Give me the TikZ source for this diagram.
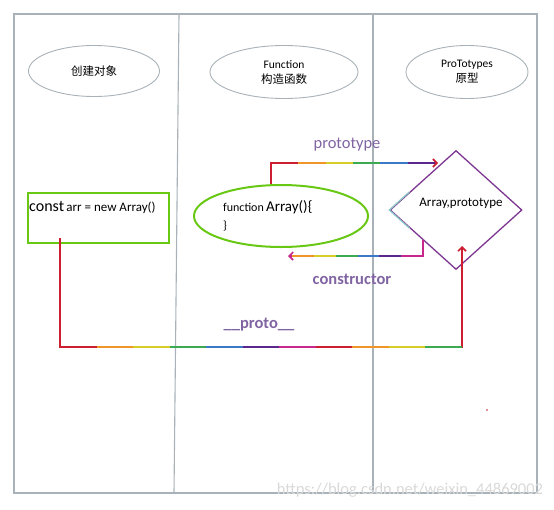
\documentclass[tikz,border=0pt]{standalone}
\usepackage{fontspec}
\setmainfont{Carlito}
\newfontfamily\cjk{Noto Sans CJK SC}
\usetikzlibrary{
    arrows.meta,
    calc,
    shapes.geometric
}
\definecolor{lanegray}{RGB}{168,178,184}
\definecolor{boxgreen}{RGB}{104,200,20}
\definecolor{labelpurple}{RGB}{128,100,162}
\definecolor{diapurple}{RGB}{125,55,145}
\definecolor{rbred}{RGB}{205,30,50}
\definecolor{rborange}{RGB}{240,150,40}
\definecolor{rbyellow}{RGB}{215,205,40}
\definecolor{rbgreen}{RGB}{60,170,80}
\definecolor{rbblue}{RGB}{60,120,200}
\definecolor{rbpurple}{RGB}{90,40,140}
\definecolor{rbmagenta}{RGB}{200,40,140}

\tikzset{
    lane/.style={draw=lanegray, line width=1.1pt},
    header/.style={ellipse, draw=lanegray, line width=0.9pt, font=\fontsize{11.5}{14}\selectfont, align=center},
    codebox/.style={draw=boxgreen, line width=2pt},
    flow/.style={line width=1.6pt},
    flowarrow/.style={flow, -{Straight Barb[length=4pt,width=8pt]}},
    flowlabel/.style={text=labelpurple, font=\fontsize{16.5}{18}\selectfont\bfseries}
}

\begin{document}
\begin{tikzpicture}[x=1pt, y=-1pt]
\useasboundingbox (0,0) rectangle (554,509);

% Lanes
\draw[lane] (14,14) rectangle (537,493);
\draw[lane] (179,14) -- (174,493);
\draw[lane] (373,14) -- (373,493);

% Lane headers
\node[header, minimum width=131pt, minimum height=51pt] (objhead) at (94,71) {\cjk 创建对象};
\node[header, minimum width=148pt, minimum height=53pt] (fnhead) at (284,72) {Function\\[1pt]{\cjk 构造函数}};
\node[header, minimum width=122pt, minimum height=53pt] (protohead) at (467,72) {ProTotypes\\[1pt]{\cjk 原型}};

% Instance box
\node[codebox, minimum width=141pt, minimum height=50pt] (arrbox) at (98.5,218) {};
\node[anchor=west, inner sep=0pt] (arrcode) at (29,207) {{\fontsize{16}{18}\selectfont const} {\fontsize{13}{15}\selectfont arr = new Array()}};

% Constructor ellipse
\node[ellipse, codebox, minimum width=174pt, minimum height=62pt] (fnell) at (281,216) {};
\node[anchor=west, inner sep=0pt] (fncode) at (223,207) {{\fontsize{12}{14}\selectfont function} {\fontsize{15}{17}\selectfont Array()\{}};
\node[anchor=west, inner sep=0pt] (fnclose) at (223,226) {\fontsize{12}{14}\selectfont \}};

% Prototype object
\node[diamond, draw=diapurple, line width=1.3pt, minimum width=132pt, minimum height=119pt, inner sep=0pt] (dia) at (456,210) {};
\draw[teal!45, line width=1.3pt] ($(dia.west)!0.3!(dia.north)$) -- (dia.west) -- ($(dia.west)!0.3!(dia.south)$);
\node[font=\fontsize{13}{15}\selectfont] (diatext) at (461,203) {Array,prototype};

% prototype: constructor -> prototype object
\coordinate (pa) at ($(fnell.north)+(-10,0)$);
\coordinate (pb) at (271,163);
\coordinate (pc) at (438,163);
\draw[flowarrow, rbred] (pa) -- (pb) -- (pc);
\foreach \c [count=\i from 0] in {rbred,rborange,rbyellow,rbgreen,rbblue,rbpurple} {
    \draw[flow, \c] ($(pb)!{\i/6}!($(pc)+(-3,0)$)$) -- ($(pb)!{(\i+1)/6}!($(pc)+(-3,0)$)$);
}
\node[flowlabel, font=\fontsize{16.5}{18}\selectfont] (protolabel) at (347,145) {prototype};

% constructor: prototype object -> constructor
\coordinate (ca) at (423,240);
\coordinate (cb) at (423,256);
\coordinate (cc) at (288,256);
\draw[flowarrow, rbmagenta] (ca) -- (cb) -- (cc);
\foreach \c [count=\i from 0] in {rbmagenta,rbpurple,rbblue,rbgreen,rbyellow,rborange} {
    \draw[flow, \c] ($(cb)!{\i/6}!($(cc)+(4,0)$)$) -- ($(cb)!{(\i+1)/6}!($(cc)+(4,0)$)$);
}
\node[flowlabel] (ctorlabel) at (352,279) {constructor};

% __proto__: instance -> prototype object
\coordinate (ua) at (60,238);
\coordinate (ub) at (60,347);
\coordinate (uc) at (462,347);
\coordinate (ud) at (462,246);
\draw[flowarrow, rbred] (ua) -- (ub) -- (uc) -- (ud);
\foreach \c [count=\i from 0] in {rbred,rborange,rbyellow,rbgreen,rbblue,rbpurple,rbmagenta,rbred,rborange,rbyellow,rbgreen} {
    \draw[flow, \c] ($(ub)!{\i/11}!(uc)$) -- ($(ub)!{(\i+1)/11}!(uc)$);
}
\node[flowlabel] (underlabel) at (259,325) {\_\_proto\_\_};

% stray dot
\fill[rbred] (487,410) circle (0.8pt);

% watermark
\node[text=gray!30, font=\fontsize{16.5}{18}\selectfont] (mark) at (410,490) {https://blog.csdn.net/weixin\_44869002};

\end{tikzpicture}
\end{document}
